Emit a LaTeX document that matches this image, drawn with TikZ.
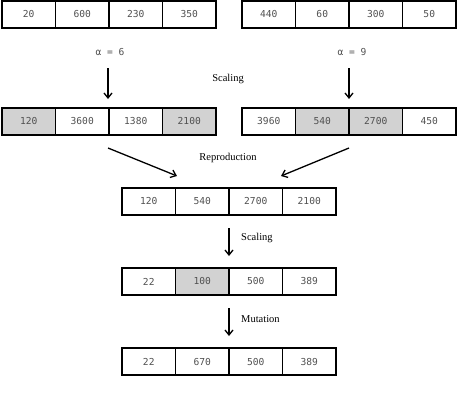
\documentclass[tikz,border=0pt]{standalone}
\usepackage{fontspec}
\setmainfont{Liberation Serif}
\newfontfamily\cellfont{DejaVu Sans Mono}
\usetikzlibrary{arrows.meta}
\definecolor{cellgray}{RGB}{210,210,210}
\definecolor{numgray}{RGB}{80,80,80}
\tikzset{
  cellbox/.style={draw=black, line width=1.2pt, minimum width=53.5pt, minimum height=27pt, inner sep=0pt, outer sep=0pt, font=\cellfont\fontsize{9.6}{11}\selectfont, text=numgray, anchor=north west},
  shaded/.style={fill=cellgray},
  flow/.style={line width=1.3pt, -{Straight Barb[length=5pt,width=8pt,line width=1.3pt]}},
  lbl/.style={font=\fontsize{10.5}{12}\selectfont, inner sep=0pt},
  alab/.style={font=\cellfont\fontsize{9.6}{11}\selectfont, text=numgray, inner sep=0pt}
}
\begin{document}
\begin{tikzpicture}[x=1pt,y=-1pt]
\useasboundingbox (0,0) rectangle (474,402);
% row 1 left
\node[cellbox] (a1) at (2,1) {20};
\node[cellbox] (a2) at (55.5,1) {600};
\node[cellbox] (a3) at (109,1) {230};
\node[cellbox] (a4) at (162.5,1) {350};
% row 1 right
\node[cellbox] (b1) at (242,1) {440};
\node[cellbox] (b2) at (295.5,1) {60};
\node[cellbox] (b3) at (349,1) {300};
\node[cellbox] (b4) at (402.5,1) {50};
% alpha labels
\node[alab] (al1) at (110,52) {α = 6};
\node[alab] (al2) at (352,52) {α = 9};
\node[lbl] (sc1) at (228,79) {Scaling};
% row 2
\node[cellbox,shaded] (c1) at (2,108) {120};
\node[cellbox] (c2) at (55.5,108) {3600};
\node[cellbox] (c3) at (109,108) {1380};
\node[cellbox,shaded] (c4) at (162.5,108) {2100};
\node[cellbox] (d1) at (242,108) {3960};
\node[cellbox,shaded] (d2) at (295.5,108) {540};
\node[cellbox,shaded] (d3) at (349,108) {2700};
\node[cellbox] (d4) at (402.5,108) {450};
\coordinate (s1) at (108,68);
\coordinate (s2) at (349,68);
\draw[flow] (s1) -- (108,99);
\draw[flow] (s2) -- (349,99);
% reproduction
\node[lbl] (rep) at (228,158) {Reproduction};
\coordinate (r1s) at (108,148);
\coordinate (r1e) at (177,176);
\coordinate (r2s) at (349,148);
\coordinate (r2e) at (281,176);
\draw[flow] (r1s) -- (r1e);
\draw[flow] (r2s) -- (r2e);
% row 3
\node[cellbox] (e1) at (122,188) {120};
\node[cellbox] (e2) at (175.5,188) {540};
\node[cellbox] (e3) at (229,188) {2700};
\node[cellbox] (e4) at (282.5,188) {2100};
\draw[flow] (e2.south east) ++(0,13) coordinate (t1) -- ++(0,28);
\node[lbl, anchor=west] (sc2) at (241,238) {Scaling};
% row 4
\node[cellbox] (f1) at (122,268) {22};
\node[cellbox,shaded] (f2) at (175.5,268) {100};
\node[cellbox] (f3) at (229,268) {500};
\node[cellbox] (f4) at (282.5,268) {389};
\draw[flow] (f2.south east) ++(0,13) coordinate (t2) -- ++(0,28);
\node[lbl, anchor=west] (mu) at (241,319) {Mutation};
% row 5
\node[cellbox] (g1) at (122,348) {22};
\node[cellbox] (g2) at (175.5,348) {670};
\node[cellbox] (g3) at (229,348) {500};
\node[cellbox] (g4) at (282.5,348) {389};
\end{tikzpicture}
\end{document}
